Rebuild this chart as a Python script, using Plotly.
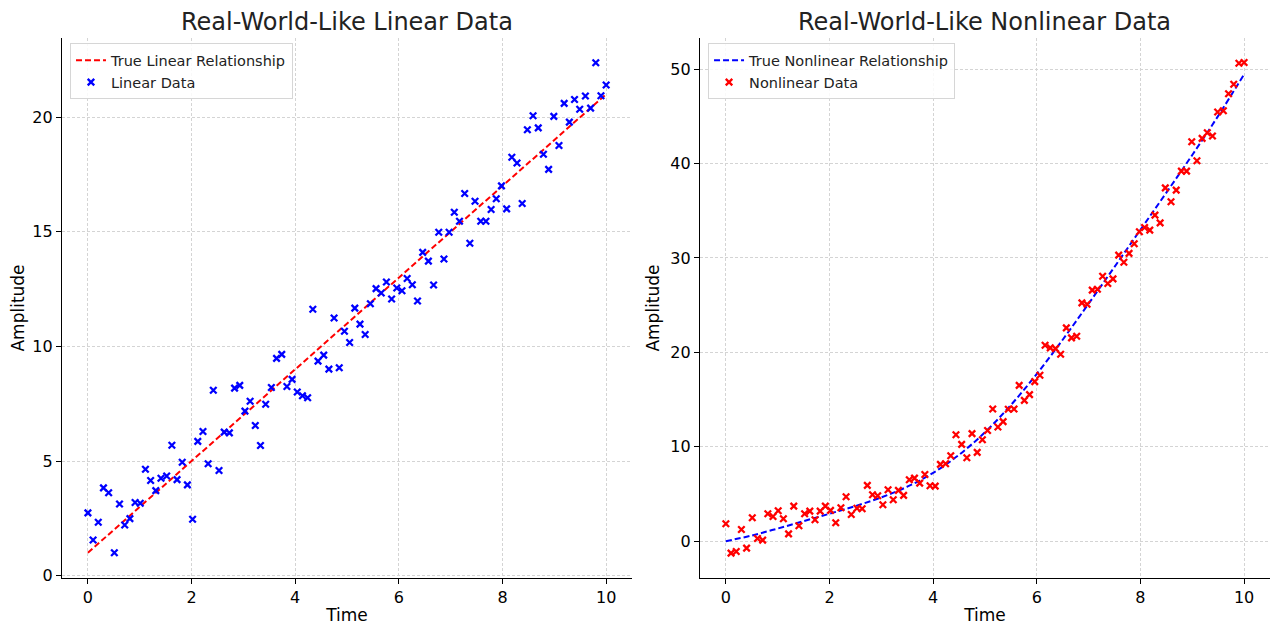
import plotly.graph_objects as go

# shared time axis (100 samples from 0 to 10)
time = [0.0, 0.10, 0.20, 0.30, 0.40, 0.51, 0.61, 0.71, 0.81, 0.91,
        1.01, 1.11, 1.21, 1.31, 1.41, 1.52, 1.62, 1.72, 1.82, 1.92,
        2.02, 2.12, 2.22, 2.32, 2.42, 2.53, 2.63, 2.73, 2.83, 2.93,
        3.03, 3.13, 3.23, 3.33, 3.43, 3.54, 3.64, 3.74, 3.84, 3.94,
        4.04, 4.14, 4.24, 4.34, 4.44, 4.55, 4.65, 4.75, 4.85, 4.95,
        5.05, 5.15, 5.25, 5.35, 5.45, 5.56, 5.66, 5.76, 5.86, 5.96,
        6.06, 6.16, 6.26, 6.36, 6.46, 6.57, 6.67, 6.77, 6.87, 6.97,
        7.07, 7.17, 7.27, 7.37, 7.47, 7.58, 7.68, 7.78, 7.88, 7.98,
        8.08, 8.18, 8.28, 8.38, 8.48, 8.59, 8.69, 8.79, 8.89, 8.99,
        9.09, 9.19, 9.29, 9.39, 9.49, 9.60, 9.70, 9.80, 9.90, 10.0]

linear_data = [2.74, 1.56, 2.33, 3.83, 3.62, 1.00, 3.13, 2.21, 2.49, 3.19,
               3.16, 4.64, 4.15, 3.71, 4.25, 4.35, 5.69, 4.19, 4.95, 3.96,
               2.46, 5.86, 6.29, 4.88, 8.09, 4.59, 6.26, 6.23, 8.18, 8.30,
               7.18, 7.61, 6.55, 5.68, 7.48, 8.21, 9.48, 9.65, 8.25, 8.56,
               8.01, 7.85, 7.76, 11.62, 9.36, 9.62, 9.01, 11.24, 9.07, 10.66,
               10.17, 11.67, 10.97, 10.52, 11.86, 12.52, 12.33, 12.81, 12.07, 12.55,
               12.43, 12.96, 12.69, 11.98, 14.10, 13.72, 12.68, 14.98, 13.81, 14.98,
               15.85, 15.46, 16.67, 14.50, 16.33, 15.46, 15.46, 15.97, 16.44, 17.00,
               16.00, 18.25, 18.00, 16.23, 19.45, 20.06, 19.53, 18.38, 17.72, 20.03,
               18.76, 20.60, 19.78, 20.77, 20.34, 20.92, 20.39, 22.37, 20.93, 21.40]

nonlinear_data = [1.85, -1.27, -1.09, 1.24, -0.74, 2.48, 0.29, 0.11, 2.90, 2.62,
                  3.22, 2.38, 0.78, 3.71, 1.63, 2.90, 3.18, 2.27, 3.18, 3.71,
                  3.26, 1.95, 3.54, 4.71, 2.83, 3.49, 3.44, 5.91, 4.92, 4.81,
                  3.86, 5.45, 4.39, 5.38, 4.85, 6.51, 6.68, 6.15, 7.07, 5.87,
                  5.83, 8.13, 8.20, 9.05, 11.28, 10.25, 8.84, 11.39, 9.41, 10.75,
                  11.72, 14.00, 12.09, 12.66, 13.97, 14.00, 16.51, 14.92, 15.52, 16.90,
                  17.57, 20.75, 20.47, 20.40, 19.80, 22.59, 21.53, 21.71, 25.24, 25.10,
                  26.59, 26.69, 28.07, 27.30, 27.78, 30.30, 29.55, 30.48, 31.50, 32.77,
                  33.23, 32.95, 34.54, 33.72, 37.43, 35.95, 37.19, 39.20, 39.20, 42.31,
                  40.30, 42.67, 43.27, 42.92, 45.46, 45.60, 47.40, 48.40, 50.63, 50.70]

# true relationships
line_x = [0, 10]
line_y = [1, 21]
curve_x = [0, 0.5, 1, 1.5, 2, 2.5, 3, 3.5, 4, 4.5, 5, 5.5, 6, 6.5, 7, 7.5, 8, 8.5, 9, 9.5, 10]
curve_y = [0.0, 0.60, 1.34, 2.12, 2.91, 3.72, 4.64, 5.77, 7.24, 9.15, 11.54,
           14.42, 17.72, 21.34, 25.16, 29.06, 32.99, 36.92, 40.91, 45.05, 49.46]

FONT = "DejaVu Sans"
DASH = "6px,3px"

fig = go.Figure()

fig.add_trace(go.Scatter(x=line_x, y=line_y, mode="lines", name="True Linear Relationship",
                         line=dict(color="#ff0000", width=2, dash=DASH),
                         xaxis="x", yaxis="y", legend="legend"))
fig.add_trace(go.Scatter(x=time, y=linear_data, mode="markers", name="Linear Data",
                         marker=dict(symbol="x-thin", size=6.5, color="#0000ff",
                                     line=dict(color="#0000ff", width=2.3)),
                         xaxis="x", yaxis="y", legend="legend"))

fig.add_trace(go.Scatter(x=curve_x, y=curve_y, mode="lines", name="True Nonlinear Relationship",
                         line=dict(color="#0000ff", width=2, dash=DASH, shape="spline"),
                         xaxis="x2", yaxis="y2", legend="legend2"))
fig.add_trace(go.Scatter(x=time, y=nonlinear_data, mode="markers", name="Nonlinear Data",
                         marker=dict(symbol="x-thin", size=6.5, color="#ff0000",
                                     line=dict(color="#ff0000", width=2.3)),
                         xaxis="x2", yaxis="y2", legend="legend2"))

axis_common = dict(
    showline=True, linecolor="black", linewidth=1.2, mirror=False,
    ticks="outside", ticklen=5, tickwidth=1, tickcolor="black",
    showgrid=True, gridcolor="#d4d4d4", gridwidth=0.8, griddash="3px,2px",
    zeroline=False, tickfont=dict(family=FONT, size=16, color="black"),
    automargin=False,
)

legend_common = dict(
    bgcolor="rgba(255,255,255,0.85)", bordercolor="#d6d6d6", borderwidth=1,
    font=dict(family=FONT, size=14.5, color="#222222"),
    xanchor="left", yanchor="top", tracegroupgap=0,
)

# page body adds an 8px offset, so the figure is 8px smaller and shifted
fig.update_layout(
    width=1272, height=627,
    paper_bgcolor="white", plot_bgcolor="white",
    margin=dict(l=54, r=10, t=30, b=57),
    font=dict(family=FONT, color="black"),
    xaxis=dict(domain=[0, 0.4719], range=[-0.5, 10.5], tickvals=[0, 2, 4, 6, 8, 10],
               title=dict(text="Time", font=dict(size=17), standoff=2), anchor="y", **axis_common),
    yaxis=dict(domain=[0, 1], range=[-0.1, 23.45], tickvals=[0, 5, 10, 15, 20],
               title=dict(text="Amplitude", font=dict(size=17), standoff=6), anchor="x", **axis_common),
    xaxis2=dict(domain=[0.5281, 1], range=[-0.5, 10.5], tickvals=[0, 2, 4, 6, 8, 10],
                title=dict(text="Time", font=dict(size=17), standoff=2), anchor="y2", **axis_common),
    yaxis2=dict(domain=[0, 1], range=[-3.9, 53.3], tickvals=[0, 10, 20, 30, 40, 50],
                title=dict(text="Amplitude", font=dict(size=17), standoff=6), anchor="x2", **axis_common),
    legend=dict(x=0.0066, y=0.99, **legend_common),
    legend2=dict(x=0.5348, y=0.99, **legend_common),
    annotations=[
        dict(text="Real-World-Like Linear Data", x=0.2359, y=1.03, xref="paper", yref="paper",
             xanchor="center", yanchor="middle", showarrow=False,
             font=dict(family=FONT, size=24, color="#222222")),
        dict(text="Real-World-Like Nonlinear Data", x=0.764, y=1.03, xref="paper", yref="paper",
             xanchor="center", yanchor="middle", showarrow=False,
             font=dict(family=FONT, size=24, color="#222222")),
    ],
)

fig.write_html("out.html")
